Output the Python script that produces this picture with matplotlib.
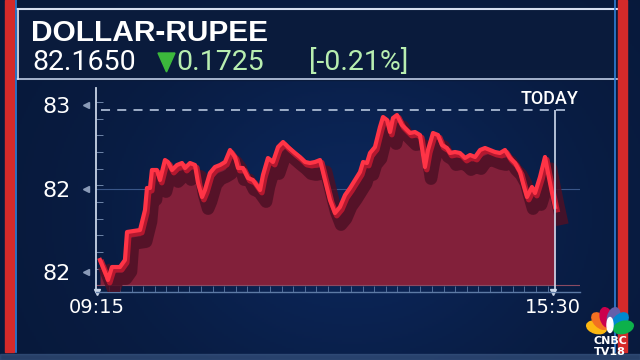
import numpy as np
import matplotlib.pyplot as plt
from matplotlib.patches import Rectangle, Polygon, Ellipse

# minutes since 09:15 and USD/INR price
minutes = [2.5, 8.2, 9.0, 12.3, 18.9, 23.0, 24.7, 35.4, 39.5, 41.1, 43.6, 45.2, 49.3,
           51.8, 55.9, 58.4, 61.7, 65.8, 69.9, 72.4, 76.5, 80.6, 83.1, 86.4, 88.8,
           92.9, 97.0, 101.2, 105.3, 109.4, 113.5, 116.0, 120.1, 124.2, 128.3, 134.1,
           136.5, 140.6, 144.7, 148.9, 153.0, 157.1, 162.8, 166.9, 171.1, 175.2,
           179.3, 183.4, 187.5, 191.6, 195.7, 199.8, 204.0, 208.1, 212.2, 216.3,
           218.8, 222.0, 224.5, 228.6, 232.7, 235.2, 238.5, 241.0, 243.4, 246.7,
           250.8, 254.9, 257.4, 261.5, 265.6, 269.7, 272.2, 276.3, 280.4, 283.7,
           287.8, 290.3, 294.4, 298.5, 302.6, 306.8, 310.9, 315.0, 319.1, 323.2,
           327.3, 331.4, 335.5, 339.7, 343.8, 347.9, 350.3, 353.6, 357.7, 360.2,
           364.3, 368.4, 370.9, 374.2, 376.7]
prices = [82.036, 81.985, 81.976, 82.015, 82.015, 82.036, 82.120, 82.126, 82.186,
          82.252, 82.252, 82.306, 82.306, 82.276, 82.336, 82.330, 82.306, 82.321,
          82.327, 82.312, 82.327, 82.321, 82.267, 82.225, 82.246, 82.297, 82.315,
          82.321, 82.330, 82.366, 82.345, 82.312, 82.312, 82.282, 82.276, 82.246,
          82.291, 82.342, 82.330, 82.375, 82.390, 82.375, 82.357, 82.345, 82.330,
          82.327, 82.330, 82.336, 82.276, 82.216, 82.177, 82.195, 82.231, 82.252,
          82.276, 82.300, 82.330, 82.327, 82.357, 82.375, 82.435, 82.465, 82.456,
          82.420, 82.462, 82.471, 82.441, 82.426, 82.417, 82.420, 82.411, 82.315,
          82.366, 82.417, 82.411, 82.381, 82.372, 82.357, 82.360, 82.357, 82.342,
          82.351, 82.345, 82.366, 82.372, 82.366, 82.360, 82.357, 82.366, 82.342,
          82.327, 82.300, 82.267, 82.225, 82.255, 82.237, 82.285, 82.345, 82.297,
          82.237, 82.195]
ytick_vals = [82.0, 82.25, 82.5]
ytick_labels = ['82', '82', '83']
xtick_vals = [0, 375]
xtick_labels = ['09:15', '15:30']
title = 'DOLLAR-RUPEE'
last_price = '82.1650'
change = '0.1725'
pct = '[-0.21%]'

W, H = 640, 360
fig = plt.figure(figsize=(6.4, 3.6), dpi=100)

# background in pixel coordinates
bg = fig.add_axes([0, 0, 1, 1])
bg.set_xlim(0, W)
bg.set_ylim(H, 0)
bg.axis('off')
yy, xx = np.mgrid[0:1:180j, 0:1:320j]
glow = np.exp(-((xx - 0.55) ** 2 / 0.12 + (yy - 0.6) ** 2 / 0.25))
base = np.array([0.035, 0.115, 0.27])
img = np.clip(base[None, None, :] * (0.85 + 0.45 * glow[..., None]), 0, 1)
bg.imshow(img, extent=[0, W, H, 0], aspect='auto', zorder=0)

# header band
bg.add_patch(Rectangle((17, 8), 606, 72, color='#0a1b3c', zorder=1))
bg.plot([17, 623], [9, 9], color='#d5def0', lw=1.5, zorder=2)
bg.plot([17, 623], [79, 79], color='#c0cde6', lw=1.2, zorder=2)
bg.plot([18, 18], [9, 79], color='#e0e6f2', lw=1.2, zorder=2)

# side bars
bg.add_patch(Rectangle((5, 0), 9, 352, color='#d42a2a', zorder=3))
bg.plot([16, 16], [0, 352], color='#2f7fd6', lw=1.2, zorder=3)
bg.add_patch(Rectangle((618, 0), 9, 352, color='#d42a2a', zorder=3))
bg.plot([615, 615], [0, 352], color='#2f7fd6', lw=1.2, zorder=3)
bg.add_patch(Rectangle((0, 354), W, 6, color='#3d5a86', alpha=0.6, zorder=1))

# header texts
num_font = ['Roboto', 'DejaVu Sans']
bg.text(31, 33, title, color='white', fontsize=21.5, fontweight='bold',
        family='Liberation Sans', va='center', ha='left', zorder=4)
bg.text(32, 62, last_price, color='white', fontsize=20.5,
        family=num_font, va='center', ha='left', zorder=4)
bg.add_patch(Polygon([(158, 53), (175, 53), (166.5, 72)], color='#3cb83c', zorder=4))
bg.text(176, 62, change, color='#b8eeb0', fontsize=20.5,
        family=num_font, va='center', ha='left', zorder=4)
bg.text(309, 62, pct, color='#b8eeb0', fontsize=20.5,
        family=num_font, va='center', ha='left', zorder=4)

# chart
t = np.array(minutes)
p = np.array(prices)
ax = fig.add_axes([96 / W, 1 - 292 / H, (580 - 96) / W, (292 - 88) / H])
ax.patch.set_alpha(0)
ax.set_xlim(-0.8, 397.2)
ax.set_ylim(81.94, 82.552)
base_v = 81.962

ax.fill_between(t, p, base_v, color='#82203a', zorder=2, lw=0)
ax.plot(t + 5, p - 0.035, color='#4e1025', lw=9, alpha=0.85, zorder=3,
        solid_joinstyle='round')
ax.plot(t + 1.5, p - 0.008, color='#b3182f', lw=4, zorder=4)
ax.plot(t, p, color='#ff3446', lw=3.0, zorder=5, solid_joinstyle='round')

ax.axhline(82.25, color='#3a5688', lw=0.8, zorder=1)
ax.axhline(base_v, color='#8a4a62', lw=0.8, zorder=2)
ax.hlines(82.486, 3, 389, color='#a9b9d2', lw=1.3, linestyle=(0, (5, 4)), zorder=1)
ax.vlines(377, 81.94, 82.486, color='#d0dbee', lw=1.2, zorder=6)
ax.text(396, 82.519, 'TODAY', color='white', fontsize=13, ha='right',
        va='center', fontweight='medium', family='Roboto')

for s in ['top', 'right']:
    ax.spines[s].set_visible(False)
ax.spines['left'].set_color('#c8d4e6')
ax.spines['left'].set_linewidth(1.3)
ax.spines['bottom'].set_color('#5d7aa5')
ax.spines['bottom'].set_linewidth(1.0)

ax.set_yticks(ytick_vals)
ax.set_yticklabels(ytick_labels)
ax.set_yticks(np.arange(81.96, 82.55, 0.05), minor=True)
ax.tick_params(axis='y', which='major', length=0, pad=18, labelsize=16, labelcolor='white')
ax.tick_params(axis='y', which='minor', direction='in', length=5, color='#7f95b8')
ax.set_xticks(xtick_vals)
ax.set_xticklabels(xtick_labels)
ax.set_xticks(np.arange(0, 380, 9.5), minor=True)
ax.tick_params(axis='x', which='major', length=0, pad=4, labelsize=14, labelcolor='white')
ax.tick_params(axis='x', which='minor', direction='in', length=4, color='#5d7aa5')
ax.plot([-0.02] * 3, ytick_vals, marker='<', ls='none', color='#8a9bb8', ms=4,
        transform=ax.get_yaxis_transform(), clip_on=False)
ax.plot(xtick_vals, [0, 0], marker='v', ls='none', color='#c8d4e6', ms=4,
        transform=ax.get_xaxis_transform(), clip_on=False)

# CNBC TV18 logo
cx, cy = 610, 331
colors = ['#fcb711', '#f37021', '#cc004c', '#6460aa', '#0089d0', '#0db14b']
for i, c in enumerate(colors):
    ang = np.deg2rad(165 - i * 30)
    bg.add_patch(Ellipse((cx + 14 * np.cos(ang), cy - 14 * np.sin(ang)), 12, 20,
                         angle=-(np.rad2deg(ang) - 90), color=c, zorder=5))
bg.add_patch(Ellipse((cx, cy - 6), 6, 15, color='white', zorder=6))
bg.text(cx, 341, 'CNBC', color='white', fontsize=8, fontweight='bold', ha='center',
        va='center', zorder=6)
bg.text(cx, 352, 'TV18', color='white', fontsize=8, fontweight='bold', ha='center',
        va='center', zorder=6)

fig.savefig('out.png', dpi=100)
